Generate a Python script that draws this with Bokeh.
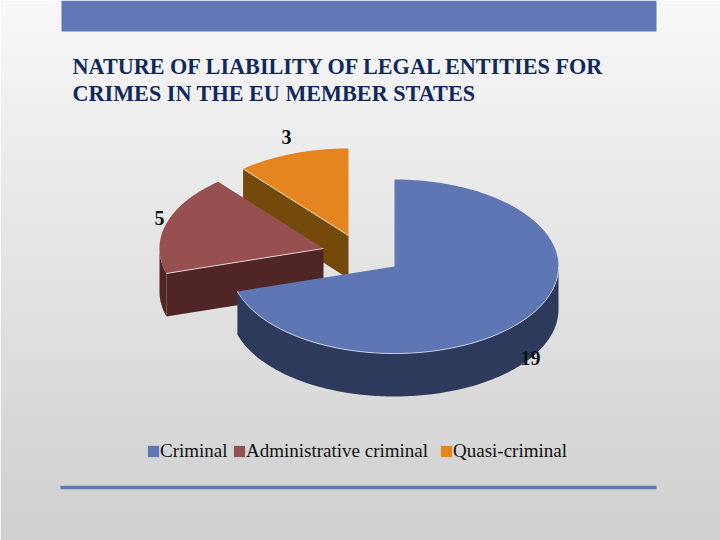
import numpy as np
from bokeh.embed import file_html
from bokeh.resources import INLINE
from bokeh.models import Legend, LegendItem, ColumnDataSource
from bokeh.plotting import figure
from bokeh.core.properties import value

categories = ["Criminal", "Administrative criminal", "Quasi-criminal"]
counts = [19, 5, 3]
top_colors = ["#5f76b5", "#96504f", "#e6841f"]
side_colors = ["#2e3a5c", "#4f2625", "#744a0b"]
title_lines = ["NATURE OF LIABILITY OF LEGAL ENTITIES FOR", "CRIMES IN THE EU MEMBER STATES"]

# layout of the projected pie (page pixels)
CX, CY, RX, RY, DEPTH = 394, 266, 164, 87, 43
apexes = [(394, 266), (323, 248), (348, 235)]
label_pos = [(530, 357), (159, 217), (286, 136)]
legend_x = [146, 232, 439]
SERIF = "Liberation Serif"

p = figure(width=720, height=540, x_range=(0, 720), y_range=(540, 0),
           output_backend="svg", toolbar_location=None, min_border=0)
p.styles = {"position": "absolute", "left": "0px", "top": "0px"}
p.axis.visible = False
p.grid.visible = False
p.outline_line_color = None
p.background_fill_color = "#ffffff"
p.border_fill_color = "#ffffff"

# soft grey background
ny, nx = 135, 180
yy, xx = np.mgrid[0:ny, 0:nx]
t = yy / (ny - 1)
g = (248 - 40 * t).astype(np.uint32)
img = (255 << 24) | (g << 16) | (g << 8) | g
p.image_rgba(image=[img.astype(np.uint32)], x=0, y=0, dw=720, dh=540)

p.quad(left=61, right=656, top=0, bottom=31, fill_color="#6076b5", line_color=None)
p.segment(x0=60, y0=487, x1=656, y1=487, line_color="#6278b3", line_width=3.3)

for i, line in enumerate(title_lines):
    p.text(x=[72], y=[66 + 26.5 * i], text=[line], text_font=value(SERIF), text_font_size="22.2px",
           text_font_style="bold", text_color="#10285c", text_baseline="middle", text_align="left")


def arc(a0, a1, ax, ay):
    th = np.radians(np.linspace(a0, a1, max(2, int(abs(a1 - a0)) + 2)))
    return ax + RX * np.sin(th), ay - RY * np.cos(th)


total = sum(counts)
edges = np.concatenate([[0], np.cumsum(counts) / total * 360])
tops = {}
for i in [2, 1, 0]:
    a0, a1 = edges[i], edges[i + 1]
    ax, ay = apexes[i]
    x, y = arc(a0, a1, ax, ay)
    if i in (1, 2):  # visible cut face
        p.patch([x[0], ax, ax, x[0]], [y[0], ay, ay + DEPTH, y[0] + DEPTH],
                fill_color=side_colors[i], line_color=None)
    w0, w1 = max(a0, 90), min(a1, 270)
    if w1 > w0:  # outer wall on the front half of the ellipse
        wx, wy = arc(w0, w1, ax, ay)
        p.patch(np.r_[wx, wx[::-1]], np.r_[wy, wy[::-1] + DEPTH], fill_color=side_colors[i], line_color=None)
    tops[i] = p.patch(np.r_[ax, x], np.r_[ay, y], fill_color=top_colors[i], line_color=None)
    if i == 0:
        hx, hy = arc(90, a1, ax, ay)
        p.line(hx, hy, line_color="#dfe4f2", line_width=1, line_alpha=0.8)
    elif i == 1:
        p.line([x[0], ax], [y[0], ay], line_color="#f3e3e3", line_width=1, line_alpha=0.85)
    else:
        p.line([x[0], ax], [y[0], ay], line_color="#fbeedd", line_width=1, line_alpha=0.85)

src = ColumnDataSource(dict(x=[q[0] for q in label_pos], y=[q[1] for q in label_pos], t=[str(c) for c in counts]))
p.text("x", "y", text="t", source=src, text_font=value(SERIF), text_font_size="20px", text_font_style="bold",
       text_color="#111111", text_align="center", text_baseline="middle")

for i in range(3):
    legend = Legend(items=[LegendItem(label=categories[i], renderers=[tops[i]])],
                    orientation="horizontal", location=(legend_x[i], 78), padding=0, margin=0,
                    label_standoff=0, glyph_width=14, glyph_height=14,
                    label_text_font=SERIF, label_text_font_size="19px", label_text_color="#111111",
                    background_fill_alpha=0, border_line_color=None)
    p.add_layout(legend, "center")

open("out.html", "w").write(file_html(p, INLINE))
